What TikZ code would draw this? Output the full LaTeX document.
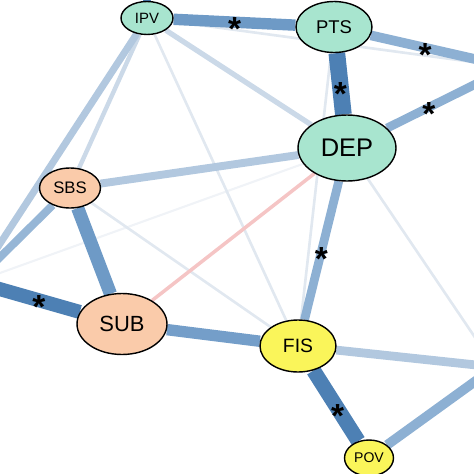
\documentclass[tikz,border=0pt]{standalone}
\usepackage{fontspec}
\setmainfont{Liberation Sans}
\usetikzlibrary{shapes.geometric,backgrounds}
\definecolor{mint}{HTML}{A8E5CF}
\definecolor{peach}{HTML}{FACBAA}
\definecolor{lemon}{HTML}{FAF55A}
\definecolor{tieDark}{HTML}{4D80B4}
\definecolor{tieMid}{HTML}{6E9AC6}
\definecolor{tieSoft}{HTML}{8DB0D3}
\definecolor{tieLight}{HTML}{B2C8DF}
\definecolor{tiePale}{HTML}{CBD9E8}
\definecolor{tieFaint}{HTML}{E1E8F0}
\definecolor{tieGhost}{HTML}{F0F3F7}
\definecolor{tieNeg}{HTML}{F5C5C5}
\tikzset{
  var/.style={ellipse, draw=black, line width=0.8pt, inner sep=0pt},
  mintvar/.style={var, fill=mint},
  peachvar/.style={var, fill=peach},
  lemonvar/.style={var, fill=lemon},
  tie/.style={line cap=butt},
  tiedark/.style={tie, tieDark, line width=8.5pt},
  tiemid/.style={tie, tieMid, line width=6.5pt},
  tiesoft/.style={tie, tieSoft, line width=5pt},
  tielight/.style={tie, tieLight, line width=4.5pt},
  tiepale/.style={tie, tiePale, line width=2.5pt},
  tiefaint/.style={tie, tieFaint, line width=1.5pt},
  tieghost/.style={tie, tieGhost, line width=1.2pt},
  tieneg/.style={tie, tieNeg, line width=2pt},
  sigmark/.style={text=black, font=\fontsize{19}{19}\selectfont\bfseries,
                  inner sep=0pt, yshift=-4pt},
}

\begin{document}
\begin{tikzpicture}[x=0.02cm, y=-0.02cm]
\useasboundingbox (0,0) rectangle (474,474);

% ------------------------------------------------------------ the variables
\node[mintvar, minimum width=1.04cm, minimum height=0.66cm,
      font=\fontsize{8.5}{8.5}\selectfont] (ipv) at (147,18) {IPV};
\node[mintvar, minimum width=1.52cm, minimum height=1.02cm,
      font=\fontsize{10.5}{10.5}\selectfont] (pts) at (334,27) {PTS};
\node[mintvar, minimum width=1.96cm, minimum height=1.32cm,
      font=\fontsize{14.5}{14.5}\selectfont] (dep) at (347,148) {DEP};
\node[peachvar, minimum width=1.22cm, minimum height=0.80cm,
      font=\fontsize{9.5}{9.5}\selectfont] (sbs) at (70,188) {SBS};
\node[peachvar, minimum width=1.80cm, minimum height=1.22cm,
      font=\fontsize{12.5}{12.5}\selectfont] (sub) at (122,324) {SUB};
\node[lemonvar, minimum width=1.52cm, minimum height=1.04cm,
      font=\fontsize{11}{11}\selectfont] (fis) at (298,346) {FIS};
\node[lemonvar, minimum width=0.98cm, minimum height=0.72cm,
      font=\fontsize{8}{8}\selectfont] (pov) at (369,458) {POV};

% the variables just outside the frame
\coordinate (offL) at (-25,282);
\coordinate (offR1) at (510,67);
\coordinate (offR2) at (495,367);
\coordinate (offT1) at (147,-40);
\coordinate (offT2) at (337,-40);
\coordinate (offB) at (378,520);

% ---------------------------------------------------------------- the edges
\begin{scope}[on background layer]
% the faint ones first
\draw[tieghost] (offL) -- (dep);
\draw[tiefaint] (ipv) -- (offR1);
\draw[tiefaint] (ipv) -- (fis);
\draw[tiefaint] (sbs) -- (fis);
\draw[tiefaint] (pts) -- (fis);
\draw[tiefaint] (dep) -- (offR2);
\draw[tiefaint] (pts) -- (offT2);
\draw[tiepale] (ipv) -- (sbs);
\draw[tiepale, line width=3pt] (ipv) -- (dep);
\draw[tieneg] (dep) -- (sub);
% then the stronger ones
\draw[tielight, line width=4pt] (ipv) -- (offL);
\draw[tielight, draw=tieSoft!75!tieLight] (sbs) -- (offL);
\draw[tielight] (sbs) -- (dep);
\draw[tielight, line width=5pt] (fis) -- (offR2);
\draw[tiesoft, line width=5.5pt] (pov) -- (offR2);
\draw[tiemid, line width=7.5pt] (sbs) -- (sub);
\draw[tiemid, draw=tieMid!80!tieSoft] (sub) -- (fis);
\draw[tiemid] (ipv) -- (pts) node[sigmark, pos=0.5] {*};
\draw[tiesoft, line width=5.5pt] (pts) -- (offR1) node[sigmark, pos=0.39] {*};
\draw[tiesoft] (dep) -- (offR1) node[sigmark, pos=0.34] {*};
\draw[tiesoft] (dep) -- (fis) node[sigmark, pos=0.51] {*};
\draw[tiedark, line width=9.5pt] (pts) -- (dep) node[sigmark, pos=0.55] {*};
\draw[tiedark, line width=8pt] (sub) -- (offL) node[sigmark, pos=0.39] {*};
\draw[tiedark] (fis) -- (pov) node[sigmark, pos=0.54] {*};
\draw[tiedark, line width=5pt] (ipv) -- (offT1);
\draw[tiedark, line width=5pt] (pov) -- (offB);
\end{scope}

\end{tikzpicture}
\end{document}
